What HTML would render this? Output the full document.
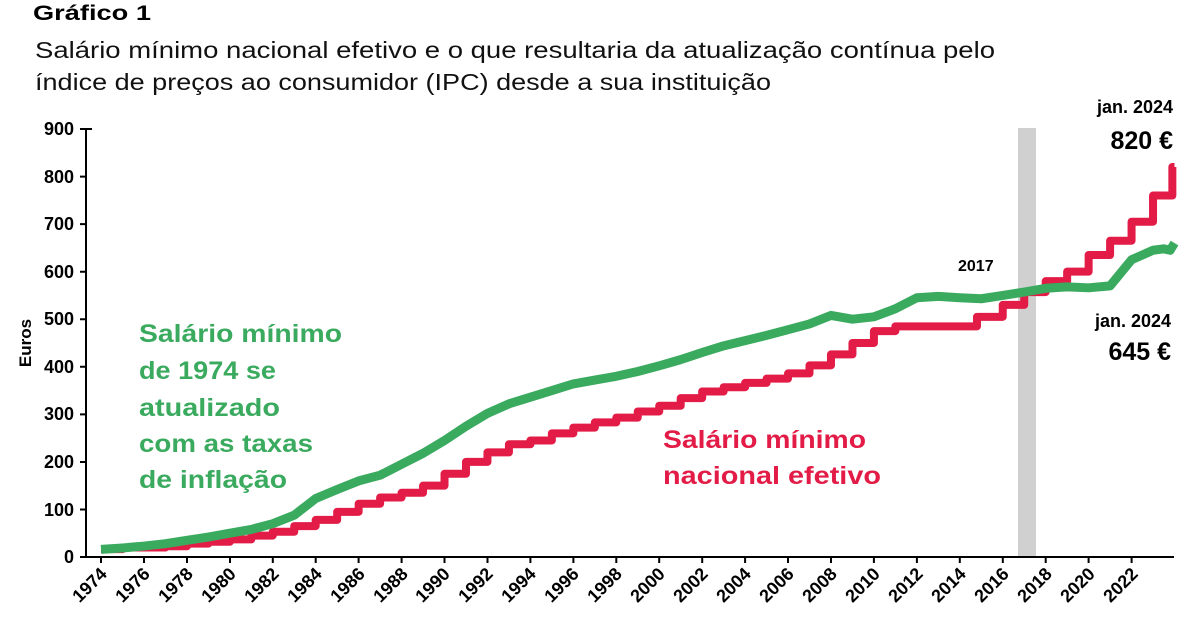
<!DOCTYPE html>
<html><head><meta charset="utf-8"><style>
html,body{margin:0;padding:0;background:#fff;}
svg{display:block;font-family:"Liberation Sans","DejaVu Sans",sans-serif;}
</style></head><body>
<svg width="1200" height="630" viewBox="0 0 1200 630" xmlns="http://www.w3.org/2000/svg">
<text x="33" y="20" font-size="21" font-weight="bold" fill="#000" textLength="118" lengthAdjust="spacingAndGlyphs">Gráfico 1</text>
<text x="35" y="58" font-size="23" fill="#111" textLength="960" lengthAdjust="spacingAndGlyphs">Salário mínimo nacional efetivo e o que resultaria da atualização contínua pelo</text>
<text x="35" y="90" font-size="23" fill="#111" textLength="736" lengthAdjust="spacingAndGlyphs">índice de preços ao consumidor (IPC) desde a sua instituição</text>

<rect x="1018" y="128" width="18" height="429" fill="#d0d0d0"/>

<g stroke="#000" stroke-width="2" fill="none">
<path d="M86 129 H92 M86 129 V557 H1174"/>
<path d="M80 129H86M80 176.6H86M80 224.1H86M80 271.7H86M80 319.3H86M80 366.8H86M80 414.4H86M80 462H86M80 509.5H86M80 557H86"/>
<path d="M101 557v6M144 557v6M187 557v6M230 557v6M272.8 557v6M315.7 557v6M358.6 557v6M401.6 557v6M444.5 557v6M487.5 557v6M530.4 557v6M573.4 557v6M616.3 557v6M659.2 557v6M702.2 557v6M745.1 557v6M788 557v6M831 557v6M873.9 557v6M916.9 557v6M959.8 557v6M1002.8 557v6M1045.7 557v6M1088.6 557v6M1131.6 557v6"/>
</g>
<g font-size="18" font-weight="bold" text-anchor="end" fill="#000">
<text x="74" y="135">900</text><text x="74" y="183">800</text><text x="74" y="230">700</text><text x="74" y="278">600</text><text x="74" y="325">500</text><text x="74" y="373">400</text><text x="74" y="420">300</text><text x="74" y="468">200</text><text x="74" y="516">100</text><text x="74" y="563">0</text>
</g>
<text transform="translate(31,343) rotate(-90)" font-size="17" font-weight="bold" text-anchor="middle">Euros</text>
<g font-size="18" font-weight="bold" text-anchor="end" fill="#000">
<text transform="translate(108,575) rotate(-45)">1974</text>
<text transform="translate(151,575) rotate(-45)">1976</text>
<text transform="translate(194,575) rotate(-45)">1978</text>
<text transform="translate(237,575) rotate(-45)">1980</text>
<text transform="translate(280,575) rotate(-45)">1982</text>
<text transform="translate(323,575) rotate(-45)">1984</text>
<text transform="translate(366,575) rotate(-45)">1986</text>
<text transform="translate(409,575) rotate(-45)">1988</text>
<text transform="translate(451,575) rotate(-45)">1990</text>
<text transform="translate(494,575) rotate(-45)">1992</text>
<text transform="translate(537,575) rotate(-45)">1994</text>
<text transform="translate(580,575) rotate(-45)">1996</text>
<text transform="translate(623,575) rotate(-45)">1998</text>
<text transform="translate(666,575) rotate(-45)">2000</text>
<text transform="translate(709,575) rotate(-45)">2002</text>
<text transform="translate(752,575) rotate(-45)">2004</text>
<text transform="translate(795,575) rotate(-45)">2006</text>
<text transform="translate(838,575) rotate(-45)">2008</text>
<text transform="translate(881,575) rotate(-45)">2010</text>
<text transform="translate(924,575) rotate(-45)">2012</text>
<text transform="translate(967,575) rotate(-45)">2014</text>
<text transform="translate(1010,575) rotate(-45)">2016</text>
<text transform="translate(1053,575) rotate(-45)">2018</text>
<text transform="translate(1096,575) rotate(-45)">2020</text>
<text transform="translate(1139,575) rotate(-45)">2022</text>
</g>

<g transform="translate(101,557) scale(21.47,-0.4756)" fill="none" stroke-linejoin="round">
<path vector-effect="non-scaling-stroke" stroke="#e31c47" stroke-width="8" d="M0 16.5 H1 V20 H3 V22.5 H4 V28 H5 V32 H6 V37 H7 V45 H8 V53 H9 V65 H10 V78 H11 V95 H12 V112 H13 V125 H14 V135 H15 V150 H16 V175 H17 V200 H18 V220 H19 V237 H20 V245 H21 V260 H22 V272 H23 V283 H24 V293 H25 V306 H26 V318 H27 V334 H28 V348 H29 V357 H30 V366 H31 V375 H32 V386 H33 V403 H34 V426 H35 V450 H36 V475 H37 V485 H40.8 V505 H42 V530 H43 V557 H44 V580 H45 V600 H46 V635 H47 V665 H48 V705 H49 V760 H49.9 V820 H50"/>
<path vector-effect="non-scaling-stroke" stroke="#3aaa5f" stroke-width="9" d="M0 16 L1 19 L2 23 L3 28 L4 35 L5 42 L6 50 L7 58 L8 70 L9 88 L10 123 L11 142 L12 160 L13 172 L14 195 L15 218 L16 245 L17 275 L18 302 L19 322 L20 336 L21 350 L22 364 L23 372 L24 380 L25 390 L26 402 L27 415 L28 430 L29 444 L30 455 L31 466 L32 478 L33 490 L34 508 L35 500 L36 505 L37 522 L38 545 L39 548 L40 545 L41 543 L42 550 L43 557 L44 565 L45 568 L46 566 L47 570 L48 625 L49 645 L49.5 648 L49.8 645 L50 660"/>
</g>

<g font-size="25" font-weight="bold" fill="#3aaa5f" lengthAdjust="spacingAndGlyphs">
<text x="139" y="342" textLength="203" lengthAdjust="spacingAndGlyphs">Salário mínimo</text>
<text x="139" y="379" textLength="137" lengthAdjust="spacingAndGlyphs">de 1974 se</text>
<text x="139" y="416" textLength="141" lengthAdjust="spacingAndGlyphs">atualizado</text>
<text x="139" y="452" textLength="174" lengthAdjust="spacingAndGlyphs">com as taxas</text>
<text x="139" y="488" textLength="148" lengthAdjust="spacingAndGlyphs">de inflação</text>
</g>
<g font-size="25" font-weight="bold" fill="#e31c47">
<text x="663" y="448" textLength="203" lengthAdjust="spacingAndGlyphs">Salário mínimo</text>
<text x="663" y="484" textLength="218" lengthAdjust="spacingAndGlyphs">nacional efetivo</text>
</g>
<text x="958" y="271" font-size="16" font-weight="bold">2017</text>
<g font-weight="bold" text-anchor="end" fill="#000">
<text x="1173" y="113" font-size="18">jan. 2024</text>
<text x="1173" y="149" font-size="25">820 €</text>
<text x="1171" y="327" font-size="18">jan. 2024</text>
<text x="1171" y="360" font-size="25">645 €</text>
</g>
</svg>
</body></html>
